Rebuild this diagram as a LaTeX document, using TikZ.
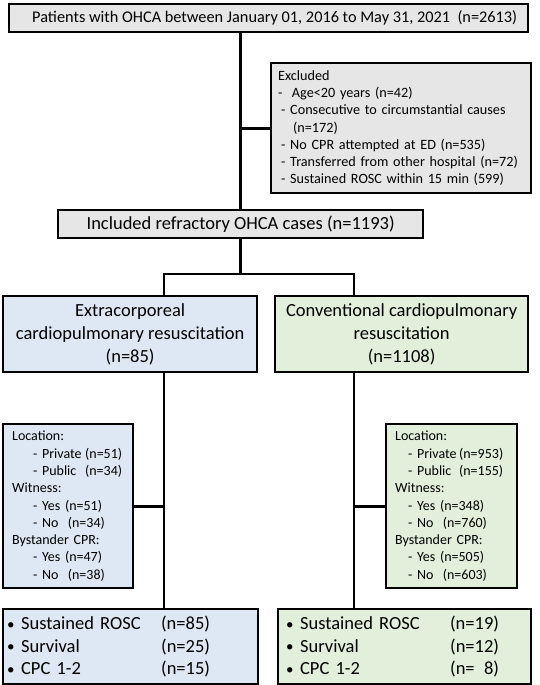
\documentclass[tikz,border=0pt]{standalone}
\usepackage{fontspec}
\setmainfont{Carlito}
\definecolor{boxgray}{HTML}{E7E6E6}
\definecolor{boxblue}{HTML}{DEE8F4}
\definecolor{boxgreen}{HTML}{E2EFDA}
\newcommand{\fsz}[2]{\fontsize{#1}{#2}\selectfont}
\newcommand{\litem}[2]{\hspace*{21pt}\makebox[52pt][l]{#1}#2}
\newcommand{\ritem}[2]{\hspace*{13pt}\makebox[51pt][l]{#1}#2}
\newcommand{\bul}{\raisebox{0.6pt}{\fontsize{15}{15}\selectfont\textbullet}\hspace{6.5pt}}
\begin{document}
\begin{tikzpicture}[x=1pt,y=-1pt,
  box/.style={draw=black, line width=2.3pt, rectangle, inner sep=0pt, anchor=north west},
  graybox/.style={box, fill=boxgray},
  bluebox/.style={box, fill=boxblue},
  greenbox/.style={box, fill=boxgreen},
  conn/.style={draw=black, line width=2.8pt}]
\useasboundingbox (0,0) rectangle (540,685);

\node[graybox, minimum width=519pt, minimum height=28pt, font=\fsz{16.3}{18}] (top) at (8,3)
  {\hspace*{12pt}Patients with OHCA between January 01, 2016 to May 31, 2021~ (n=2613)};

\node[graybox, minimum height=130pt, text width=246pt, inner xsep=7pt, align=left, font=\fsz{14.2}{17.3}] (excl) at (270,62)
  {Excluded\\
   -\ \ Age<20 years (n=42)\\
   \hspace*{3pt}- Consecutive to circumstantial causes\\
   \hspace*{15pt}(n=172)\\
   \hspace*{3pt}- No CPR attempted at ED (n=535)\\
   \hspace*{3pt}- Transferred from other hospital (n=72)\\
   \hspace*{3pt}- Sustained ROSC within 15 min (599)};

\node[graybox, minimum width=365pt, minimum height=28pt, font=\fsz{18.5}{20}] (incl) at (57,209)
  {Included refractory OHCA cases (n=1193)};

\node[bluebox, minimum width=254pt, minimum height=76pt, align=center, font=\fsz{18.5}{23}] (ecpr) at (2,295)
  {Extracorporeal\\cardiopulmonary resuscitation\\(n=85)};

\node[greenbox, minimum width=253pt, minimum height=76pt, align=center, font=\fsz{18.5}{23}] (ccpr) at (274,295)
  {Conventional cardiopulmonary\\resuscitation\\(n=1108)};

\node[bluebox, minimum height=164pt, text width=112pt, inner xsep=9pt, align=left, font=\fsz{14}{17.3}] (sidel) at (2,423)
  {Location:\\
   \litem{- Private}{(n=51)}\\
   \litem{- Public}{(n=34)}\\
   Witness:\\
   \litem{- Yes (n=51)}{}\\
   \litem{- No\ \ (n=34)}{}\\
   Bystander CPR:\\
   \litem{- Yes (n=47)}{}\\
   \litem{- No\ \ (n=38)}{}};

\node[greenbox, minimum height=164pt, text width=113pt, inner xsep=9pt, align=left, font=\fsz{14}{17.3}] (sider) at (385,423)
  {Location:\\
   \ritem{- Private}{(n=953)}\\
   \ritem{- Public}{(n=155)}\\
   Witness:\\
   \ritem{- Yes (n=348)}{}\\
   \ritem{- No\ \ (n=760)}{}\\
   Bystander CPR:\\
   \ritem{- Yes (n=505)}{}\\
   \ritem{- No\ \ (n=603)}{}};

\node[bluebox, minimum height=75pt, text width=247pt, inner xsep=4pt, align=left, font=\fsz{18.5}{22.5}] (outl) at (2,608)
  {\makebox[154pt][l]{\bul Sustained ROSC}(n=85)\\
   \makebox[154pt][l]{\bul Survival}(n=25)\\
   \makebox[154pt][l]{\bul CPC 1-2}(n=15)};

\node[greenbox, minimum height=75pt, text width=245pt, inner xsep=4pt, align=left, font=\fsz{18.5}{22.5}] (outr) at (277,608)
  {\hspace*{4pt}\makebox[164pt][l]{\bul Sustained ROSC}(n=19)\\
   \hspace*{4pt}\makebox[164pt][l]{\bul Survival}(n=12)\\
   \hspace*{4pt}\makebox[164pt][l]{\bul CPC 1-2}(n=\hphantom{1}8)};

\coordinate (jl) at (164,274);
\coordinate (jr) at (354,274);

\draw[conn] (incl.north |- top.south) -- (incl.north);
\draw[conn] (excl.west) -- (excl.west -| incl.north);
\draw[conn] (incl.south) -- (incl.south |- jl);
\draw[conn] (jl |- ecpr.north) -- (jl) -- (jr) -- (jr |- ccpr.north);
\draw[conn] (jl |- ecpr.south) -- (jl |- outl.north);
\draw[conn] (jr |- ccpr.south) -- (jr |- outr.north);
\draw[conn] (sidel.east) -- (sidel.east -| jl);
\draw[conn] (sider.west) -- (sider.west -| jr);
\end{tikzpicture}
\end{document}
